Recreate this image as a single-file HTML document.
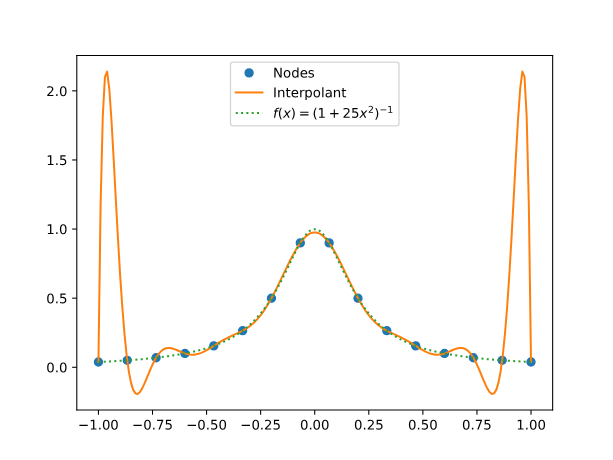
<!DOCTYPE html>
<html lang="en">
<head>
<meta charset="utf-8">
<title>Runge phenomenon: interpolant at equispaced nodes</title>
<style>
html,body{margin:0;padding:0;background:#fff;}
body{width:613px;height:460px;overflow:hidden;}
svg{display:block;}
text{font-family:'DejaVu Sans','Liberation Sans',sans-serif;font-size:10px;fill:#000;text-rendering:geometricPrecision;}
.tk{stroke:#000;stroke-width:0.8;fill:none;}
.xl{text-anchor:middle;}
.yl{text-anchor:end;}
.it{font-style:oblique;}
.sup{font-size:7px;}
</style>
</head>
<body>
<svg width="613" height="460" viewBox="0 0 613 460">
<rect x="0" y="0" width="613" height="460" fill="#ffffff"/>
<g transform="matrix(1.332460 0 0 1.332460 0.0500 0.1900)">
<clipPath id="ax"><rect x="57.6" y="41.472" width="357.12" height="266.112"/></clipPath>
<path class="tk" d="M73.833 307.584 v3.5"/><text class="xl" transform="matrix(1 0.001 0 1 73.833 322.182)">−1.00</text>
<path class="tk" d="M114.415 307.584 v3.5"/><text class="xl" transform="matrix(1 0.001 0 1 114.415 322.182)">−0.75</text>
<path class="tk" d="M154.996 307.584 v3.5"/><text class="xl" transform="matrix(1 0.001 0 1 154.996 322.182)">−0.50</text>
<path class="tk" d="M195.578 307.584 v3.5"/><text class="xl" transform="matrix(1 0.001 0 1 195.578 322.182)">−0.25</text>
<path class="tk" d="M236.160 307.584 v3.5"/><text class="xl" transform="matrix(1 0.001 0 1 236.160 322.182)">0.00</text>
<path class="tk" d="M276.742 307.584 v3.5"/><text class="xl" transform="matrix(1 0.001 0 1 276.742 322.182)">0.25</text>
<path class="tk" d="M317.324 307.584 v3.5"/><text class="xl" transform="matrix(1 0.001 0 1 317.324 322.182)">0.50</text>
<path class="tk" d="M357.905 307.584 v3.5"/><text class="xl" transform="matrix(1 0.001 0 1 357.905 322.182)">0.75</text>
<path class="tk" d="M398.487 307.584 v3.5"/><text class="xl" transform="matrix(1 0.001 0 1 398.487 322.182)">1.00</text>
<path class="tk" d="M57.600 275.500 h-3.5"/><text class="yl" transform="matrix(1 0.001 0 1 50.600 279.300)">0.0</text>
<path class="tk" d="M57.600 223.636 h-3.5"/><text class="yl" transform="matrix(1 0.001 0 1 50.600 227.435)">0.5</text>
<path class="tk" d="M57.600 171.771 h-3.5"/><text class="yl" transform="matrix(1 0.001 0 1 50.600 175.570)">1.0</text>
<path class="tk" d="M57.600 119.906 h-3.5"/><text class="yl" transform="matrix(1 0.001 0 1 50.600 123.705)">1.5</text>
<path class="tk" d="M57.600 68.041 h-3.5"/><text class="yl" transform="matrix(1 0.001 0 1 50.600 71.840)">2.0</text>
<g clip-path="url(#ax)">
<g fill="#1f77b4" stroke="#1f77b4" stroke-width="1"><circle cx="73.833" cy="271.511" r="3"/><circle cx="95.476" cy="270.256" r="3"/><circle cx="117.120" cy="268.319" r="3"/><circle cx="138.764" cy="265.127" r="3"/><circle cx="160.407" cy="259.404" r="3"/><circle cx="182.051" cy="248.042" r="3"/><circle cx="203.695" cy="223.636" r="3"/><circle cx="225.338" cy="182.144" r="3"/><circle cx="246.982" cy="182.144" r="3"/><circle cx="268.625" cy="223.636" r="3"/><circle cx="290.269" cy="248.042" r="3"/><circle cx="311.913" cy="259.404" r="3"/><circle cx="333.556" cy="265.127" r="3"/><circle cx="355.200" cy="268.319" r="3"/><circle cx="376.844" cy="270.256" r="3"/><circle cx="398.487" cy="271.511" r="3"/></g>
<path d="M73.833 271.511 L75.464 153.692 L77.096 87.102 L78.727 57.473 L80.358 53.568 L81.990 66.663 L83.621 90.102 L85.253 118.912 L86.884 149.486 L88.516 179.300 L90.147 206.689 L91.778 230.651 L93.410 250.686 L95.041 266.666 L96.673 278.729 L98.304 287.190 L99.936 292.477 L101.567 295.075 L103.198 295.488 L104.830 294.207 L106.461 291.692 L108.093 288.356 L109.724 284.556 L111.356 280.592 L112.987 276.706 L114.618 273.081 L116.250 269.850 L117.881 267.098 L119.513 264.868 L121.144 263.169 L122.776 261.984 L124.407 261.271 L126.038 260.974 L127.670 261.026 L129.301 261.355 L130.933 261.885 L132.564 262.546 L134.196 263.267 L135.827 263.990 L137.458 264.659 L139.090 265.233 L140.721 265.675 L142.353 265.963 L143.984 266.081 L145.616 266.022 L147.247 265.789 L148.879 265.388 L150.510 264.835 L152.141 264.147 L153.773 263.346 L155.404 262.454 L157.036 261.496 L158.667 260.495 L160.299 259.473 L161.930 258.449 L163.561 257.441 L165.193 256.461 L166.824 255.520 L168.456 254.622 L170.087 253.769 L171.719 252.957 L173.350 252.179 L174.981 251.425 L176.613 250.681 L178.244 249.930 L179.876 249.153 L181.507 248.331 L183.139 247.441 L184.770 246.463 L186.401 245.376 L188.033 244.159 L189.664 242.796 L191.296 241.269 L192.927 239.567 L194.559 237.680 L196.190 235.602 L197.821 233.331 L199.453 230.869 L201.084 228.223 L202.716 225.404 L204.347 222.427 L205.979 219.310 L207.610 216.076 L209.241 212.753 L210.873 209.368 L212.504 205.954 L214.136 202.545 L215.767 199.177 L217.399 195.885 L219.030 192.708 L220.661 189.680 L222.293 186.837 L223.924 184.215 L225.556 181.843 L227.187 179.752 L228.819 177.968 L230.450 176.512 L232.081 175.404 L233.713 174.657 L235.344 174.282 L236.976 174.282 L238.607 174.657 L240.239 175.404 L241.870 176.512 L243.501 177.968 L245.133 179.752 L246.764 181.843 L248.396 184.215 L250.027 186.837 L251.659 189.680 L253.290 192.708 L254.921 195.885 L256.553 199.177 L258.184 202.545 L259.816 205.954 L261.447 209.368 L263.079 212.753 L264.710 216.076 L266.341 219.310 L267.973 222.427 L269.604 225.404 L271.236 228.223 L272.867 230.869 L274.499 233.331 L276.130 235.602 L277.761 237.680 L279.393 239.567 L281.024 241.269 L282.656 242.796 L284.287 244.159 L285.919 245.376 L287.550 246.463 L289.181 247.441 L290.813 248.331 L292.444 249.153 L294.076 249.930 L295.707 250.681 L297.339 251.425 L298.970 252.179 L300.601 252.957 L302.233 253.769 L303.864 254.622 L305.496 255.520 L307.127 256.461 L308.759 257.441 L310.390 258.449 L312.021 259.473 L313.653 260.495 L315.284 261.496 L316.916 262.454 L318.547 263.346 L320.179 264.147 L321.810 264.835 L323.441 265.388 L325.073 265.789 L326.704 266.022 L328.336 266.081 L329.967 265.963 L331.599 265.675 L333.230 265.233 L334.862 264.659 L336.493 263.990 L338.124 263.267 L339.756 262.546 L341.387 261.885 L343.019 261.355 L344.650 261.026 L346.282 260.974 L347.913 261.271 L349.544 261.984 L351.176 263.169 L352.807 264.868 L354.439 267.098 L356.070 269.850 L357.702 273.081 L359.333 276.706 L360.964 280.592 L362.596 284.556 L364.227 288.356 L365.859 291.692 L367.490 294.207 L369.122 295.488 L370.753 295.075 L372.384 292.477 L374.016 287.190 L375.647 278.729 L377.279 266.666 L378.910 250.686 L380.542 230.651 L382.173 206.689 L383.804 179.300 L385.436 149.486 L387.067 118.912 L388.699 90.102 L390.330 66.663 L391.962 53.568 L393.593 57.473 L395.224 87.102 L396.856 153.692 L398.487 271.511" fill="none" stroke="#ff7f0e" stroke-width="1.5" stroke-linejoin="round" stroke-linecap="square"/>
<path d="M73.833 271.511 L75.464 271.432 L77.096 271.352 L78.727 271.269 L80.358 271.184 L81.990 271.096 L83.621 271.005 L85.253 270.912 L86.884 270.815 L88.516 270.716 L90.147 270.614 L91.778 270.508 L93.410 270.399 L95.041 270.286 L96.673 270.170 L98.304 270.050 L99.936 269.925 L101.567 269.797 L103.198 269.664 L104.830 269.526 L106.461 269.384 L108.093 269.237 L109.724 269.084 L111.356 268.926 L112.987 268.762 L114.618 268.592 L116.250 268.416 L117.881 268.233 L119.513 268.043 L121.144 267.845 L122.776 267.640 L124.407 267.427 L126.038 267.206 L127.670 266.975 L129.301 266.735 L130.933 266.485 L132.564 266.224 L134.196 265.952 L135.827 265.669 L137.458 265.373 L139.090 265.065 L140.721 264.742 L142.353 264.405 L143.984 264.052 L145.616 263.684 L147.247 263.297 L148.879 262.893 L150.510 262.469 L152.141 262.024 L153.773 261.558 L155.404 261.068 L157.036 260.553 L158.667 260.012 L160.299 259.443 L161.930 258.844 L163.561 258.214 L165.193 257.549 L166.824 256.848 L168.456 256.108 L170.087 255.327 L171.719 254.502 L173.350 253.630 L174.981 252.708 L176.613 251.732 L178.244 250.699 L179.876 249.604 L181.507 248.444 L183.139 247.215 L184.770 245.911 L186.401 244.528 L188.033 243.060 L189.664 241.503 L191.296 239.850 L192.927 238.098 L194.559 236.239 L196.190 234.268 L197.821 232.181 L199.453 229.972 L201.084 227.638 L202.716 225.176 L204.347 222.583 L205.979 219.859 L207.610 217.006 L209.241 214.030 L210.873 210.939 L212.504 207.744 L214.136 204.463 L215.767 201.119 L217.399 197.739 L219.030 194.360 L220.661 191.023 L222.293 187.776 L223.924 184.672 L225.556 181.771 L227.187 179.132 L228.819 176.817 L230.450 174.883 L232.081 173.382 L233.713 172.357 L235.344 171.836 L236.976 171.836 L238.607 172.357 L240.239 173.382 L241.870 174.883 L243.501 176.817 L245.133 179.132 L246.764 181.771 L248.396 184.672 L250.027 187.776 L251.659 191.023 L253.290 194.360 L254.921 197.739 L256.553 201.119 L258.184 204.463 L259.816 207.744 L261.447 210.939 L263.079 214.030 L264.710 217.006 L266.341 219.859 L267.973 222.583 L269.604 225.176 L271.236 227.638 L272.867 229.972 L274.499 232.181 L276.130 234.268 L277.761 236.239 L279.393 238.098 L281.024 239.850 L282.656 241.503 L284.287 243.060 L285.919 244.528 L287.550 245.911 L289.181 247.215 L290.813 248.444 L292.444 249.604 L294.076 250.699 L295.707 251.732 L297.339 252.708 L298.970 253.630 L300.601 254.502 L302.233 255.327 L303.864 256.108 L305.496 256.848 L307.127 257.549 L308.759 258.214 L310.390 258.844 L312.021 259.443 L313.653 260.012 L315.284 260.553 L316.916 261.068 L318.547 261.558 L320.179 262.024 L321.810 262.469 L323.441 262.893 L325.073 263.297 L326.704 263.684 L328.336 264.052 L329.967 264.405 L331.599 264.742 L333.230 265.065 L334.862 265.373 L336.493 265.669 L338.124 265.952 L339.756 266.224 L341.387 266.485 L343.019 266.735 L344.650 266.975 L346.282 267.206 L347.913 267.427 L349.544 267.640 L351.176 267.845 L352.807 268.043 L354.439 268.233 L356.070 268.416 L357.702 268.592 L359.333 268.762 L360.964 268.926 L362.596 269.084 L364.227 269.237 L365.859 269.384 L367.490 269.526 L369.122 269.664 L370.753 269.797 L372.384 269.925 L374.016 270.050 L375.647 270.170 L377.279 270.286 L378.910 270.399 L380.542 270.508 L382.173 270.614 L383.804 270.716 L385.436 270.815 L387.067 270.912 L388.699 271.005 L390.330 271.096 L391.962 271.184 L393.593 271.269 L395.224 271.352 L396.856 271.432 L398.487 271.511" fill="none" stroke="#2ca02c" stroke-width="1.5" stroke-linejoin="round" stroke-dasharray="1.5 2.475"/>
</g>
<path d="M57.6 307.584 V41.472" fill="none" stroke="#000" stroke-width="0.8" stroke-linecap="square"/>
<path d="M414.72 307.584 V41.472" fill="none" stroke="#000" stroke-width="0.8" stroke-linecap="square"/>
<path d="M57.6 307.584 H414.72" fill="none" stroke="#000" stroke-width="0.8" stroke-linecap="square"/>
<path d="M57.6 41.472 H414.72" fill="none" stroke="#000" stroke-width="0.8" stroke-linecap="square"/>
<path d="M174.91 94.32825 L297.41 94.32825 Q299.41 94.32825 299.41 92.32825 L299.41 48.472 Q299.41 46.472 297.41 46.472 L174.91 46.472 Q172.91 46.472 172.91 48.472 L172.91 92.32825 Q172.91 94.32825 174.91 94.32825 Z" fill="#ffffff" stroke="#cccccc" stroke-width="1" stroke-linejoin="miter" opacity="0.8"/>
<circle cx="186.91" cy="54.570437" r="3" fill="#1f77b4" stroke="#1f77b4" stroke-width="1"/>
<text transform="matrix(1 0.001 0 1 204.910 58.070)">Nodes</text>
<path d="M176.91 69.248562 H196.91" fill="none" stroke="#ff7f0e" stroke-width="1.5" stroke-linecap="square"/>
<text transform="matrix(1 0.001 0 1 204.910 72.749)">Interpolant</text>
<path d="M176.91 84.748562 H196.91" fill="none" stroke="#2ca02c" stroke-width="1.5" stroke-dasharray="1.5 2.475"/>
<text transform="matrix(1 0.001 0 1 204.910 88.249)"><tspan class="it" x="0" y="0">f</tspan><tspan x="3.520508" y="0">(</tspan><tspan class="it" x="7.421875" y="0">x</tspan><tspan x="13.339844" y="0">)</tspan><tspan x="19.189453" y="0">=</tspan><tspan x="29.516602" y="0">(</tspan><tspan x="33.417969" y="0">1</tspan><tspan x="41.728516" y="0">+</tspan><tspan x="52.055664" y="0">2</tspan><tspan x="58.417969" y="0">5</tspan><tspan class="it" x="64.780273" y="0">x</tspan><tspan class="sup" x="71.144857" y="-3.828126">2</tspan><tspan x="75.871908" y="0">)</tspan><tspan class="sup" x="79.868978" y="-3.828126">−</tspan><tspan class="sup" x="85.734212" y="-3.828126">1</tspan></text>
</g>
</svg>
</body>
</html>
